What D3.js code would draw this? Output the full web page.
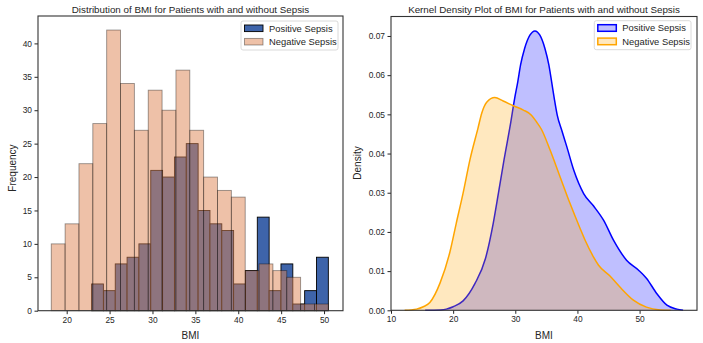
<!DOCTYPE html>
<html>
<head>
<meta charset="utf-8">
<script src="https://cdn.jsdelivr.net/npm/d3@7"></script>
<style>
  body { margin: 0; background: #fff; }
  svg text { font-family: "Liberation Sans", Arial, sans-serif; fill: #262626; }
</style>
</head>
<body>
<div class="chart"></div>
<script>
// histogram data (20 bins per group)
var seriesNames = ["Positive Sepsis", "Negative Sepsis"];
var posRange = [22.9, 50.5];
var negRange = [18.2, 50.5];
var posCounts = [4, 3, 7, 8, 10, 21, 20, 23, 25, 15, 13, 12, 4, 6, 14, 3, 7, 1, 3, 8];
var negCounts = [10, 13, 22, 28, 42, 34, 27, 33, 30, 36, 27, 20, 18, 17, 6, 7, 6, 5, 1, 1];

// kde curves
var posBmi  = [15.5, 18.0, 18.9, 20.0, 21.6, 23.5, 25.2, 26.45, 27.3, 28.2, 29.2, 29.9, 30.4, 30.85, 31.5, 32.35, 33.16,
               33.96, 34.77, 35.4, 35.85, 36.27, 36.75, 37.5, 38.3, 39.4, 41.0, 42.6, 44.2, 45.8, 47.9, 49.8, 51.1, 52.75, 54.4, 56.0, 57.0];
var posDens = [0, 0.0001, 0.0003, 0.0009, 0.0024, 0.0068, 0.0132, 0.0222, 0.0300, 0.0385, 0.0473, 0.0541, 0.0583, 0.0626, 0.0668, 0.0702, 0.0713,
               0.0702, 0.0668, 0.0626, 0.0583, 0.0541, 0.0498, 0.0458, 0.0417, 0.0358, 0.0298, 0.0266, 0.0230, 0.0179, 0.0128, 0.0103, 0.0082, 0.0043, 0.0013, 0.0003, 0];
var negBmi  = [12.2, 14.1, 15.2, 16.25, 17.9, 19.5, 20.5, 21.6, 22.7, 24.0, 24.6, 25.4, 26.7, 28.05, 29.7, 31.3, 32.6, 33.4, 34.2,
               35.6, 37.2, 38.8, 40.4, 41.2, 42.55, 43.4, 45.2, 46.8, 49.0, 51.1, 53.3, 55.0];
var negDens = [0, 0.0003, 0.0009, 0.0020, 0.0070, 0.0150, 0.0222, 0.0299, 0.0384, 0.0465, 0.0503, 0.0531, 0.0543, 0.0534, 0.0522, 0.0511, 0.0498, 0.0481, 0.0462,
               0.0409, 0.0341, 0.0273, 0.0210, 0.0180, 0.0137, 0.0115, 0.0088, 0.0060, 0.0026, 0.0008, 0.0001, 0];

// tick labels
var histXTicks = [20, 25, 30, 35, 40, 45, 50];
var histYTicks = [0, 5, 10, 15, 20, 25, 30, 35, 40];
var kdeXTicks = [10, 20, 30, 40, 50];
var kdeYTicks = [0, 0.01, 0.02, 0.03, 0.04, 0.05, 0.06, 0.07];

var width = 703, height = 343;

var svg = d3.select(".chart").append("svg")
    .attr("width", width)
    .attr("height", height);

// turn a range + counts into bins
function makeBins(range, counts) {
  var step = (range[1] - range[0]) / counts.length;
  return counts.map(function(c, i) {
    return {x0: range[0] + i * step, x1: range[0] + (i + 1) * step, n: c};
  });
}

function drawFrame(g, x, y, xTicks, yTicks, yFormat) {
  var x0 = x.range()[0], x1 = x.range()[1];
  var y0 = y.range()[0], y1 = y.range()[1];

  var xa = g.append("g")
      .attr("transform", "translate(0," + y0 + ")")
      .call(d3.axisBottom(x).tickValues(xTicks).tickSize(3.5).tickPadding(2.5).tickFormat(d3.format("d")));
  var ya = g.append("g")
      .attr("transform", "translate(" + x0 + ",0)")
      .call(d3.axisLeft(y).tickValues(yTicks).tickSize(3.5).tickPadding(2.5).tickFormat(yFormat));
  [xa, ya].forEach(function(a) {
    a.select(".domain").remove();
    a.selectAll("line").attr("stroke", "#262626");
    a.selectAll("text").style("font-size", "8.4px").attr("fill", "#262626");
  });

  g.append("rect")
    .attr("x", x0).attr("y", y1)
    .attr("width", x1 - x0).attr("height", y0 - y1)
    .attr("fill", "none")
    .attr("stroke", "#333")
    .attr("stroke-width", 1.1);
}

function drawLegend(g, x, y, w, items) {
  g.append("rect")
    .attr("x", x).attr("y", y)
    .attr("width", w).attr("height", 29)
    .attr("rx", 2)
    .attr("fill", "#fff")
    .attr("fill-opacity", 0.8)
    .attr("stroke", "#d0d0d0")
    .attr("stroke-width", 0.8);
  items.forEach(function(it, i) {
    var cy = y + 7.3 + i * 13.4;
    g.append("rect")
      .attr("x", x + 3.5).attr("y", cy - 3.3)
      .attr("width", 18.5).attr("height", 6.6)
      .attr("fill", it.fill)
      .attr("fill-opacity", it.fillOpacity)
      .attr("stroke", it.stroke)
      .attr("stroke-opacity", it.strokeOpacity)
      .attr("stroke-width", it.strokeWidth);
    g.append("text")
      .attr("x", x + 28).attr("y", cy)
      .attr("dy", "0.35em")
      .style("font-size", "9.4px")
      .text(it.name);
  });
}

// ---------- left: histogram ----------
var hx = d3.scaleLinear().domain([16.655, 52.21]).range([38, 343]);
var hy = d3.scaleLinear().domain([0, 44.1]).range([310.7, 16]);

var left = svg.append("g");

var posBins = makeBins(posRange, posCounts);
var negBins = makeBins(negRange, negCounts);

left.selectAll(".pos").data(posBins).enter().append("rect")
    .attr("class", "pos")
    .attr("x", function(d) { return hx(d.x0); })
    .attr("y", function(d) { return hy(d.n); })
    .attr("width", function(d) { return hx(d.x1) - hx(d.x0); })
    .attr("height", function(d) { return hy(0) - hy(d.n); })
    .attr("fill", "#3e64aa")
    .attr("stroke", "#000")
    .attr("stroke-width", 0.9);

left.selectAll(".neg").data(negBins).enter().append("rect")
    .attr("class", "neg")
    .attr("x", function(d) { return hx(d.x0); })
    .attr("y", function(d) { return hy(d.n); })
    .attr("width", function(d) { return hx(d.x1) - hx(d.x0); })
    .attr("height", function(d) { return hy(0) - hy(d.n); })
    .attr("fill", "#dd8452")
    .attr("fill-opacity", 0.5)
    .attr("stroke", "#000")
    .attr("stroke-opacity", 0.4)
    .attr("stroke-width", 0.9);

drawFrame(left, hx, hy, histXTicks, histYTicks, d3.format("d"));

left.append("text")
    .attr("x", 190.5).attr("y", 12.5)
    .attr("text-anchor", "middle")
    .style("font-size", "9.8px")
    .text("Distribution of BMI for Patients with and without Sepsis");
left.append("text")
    .attr("x", 190.5).attr("y", 338.5)
    .attr("text-anchor", "middle")
    .style("font-size", "10px")
    .text("BMI");
left.append("text")
    .attr("transform", "translate(15.5,168) rotate(-90)")
    .attr("text-anchor", "middle")
    .style("font-size", "10px")
    .text("Frequency");

drawLegend(left, 241, 21, 97, [
  {name: seriesNames[0], fill: "#3e64aa", fillOpacity: 1, stroke: "#000", strokeOpacity: 1, strokeWidth: 0.9},
  {name: seriesNames[1], fill: "#dd8452", fillOpacity: 0.5, stroke: "#000", strokeOpacity: 0.4, strokeWidth: 0.9}
]);

// ---------- right: kde ----------
var kx = d3.scaleLinear().domain([10, 59.24]).range([391, 697]);
var ky = d3.scaleLinear().domain([0, 0.07497]).range([310.3, 16.5]);

var right = svg.append("g");

var area = d3.area()
    .x(function(d) { return kx(d[0]); })
    .y0(ky(0))
    .y1(function(d) { return ky(d[1]); })
    .curve(d3.curveMonotoneX);
var line = d3.line()
    .x(function(d) { return kx(d[0]); })
    .y(function(d) { return ky(d[1]); })
    .curve(d3.curveMonotoneX);

var kdeSeries = [
  {pts: d3.zip(posBmi, posDens), color: "#0000ff"},
  {pts: d3.zip(negBmi, negDens), color: "#ffa500"}
];

kdeSeries.forEach(function(s) {
  right.append("path")
    .attr("d", area(s.pts))
    .attr("fill", s.color)
    .attr("fill-opacity", 0.25);
  right.append("path")
    .attr("d", line(s.pts))
    .attr("fill", "none")
    .attr("stroke", s.color)
    .attr("stroke-width", 1.5);
});

drawFrame(right, kx, ky, kdeXTicks, kdeYTicks, d3.format(".2f"));

right.append("text")
    .attr("x", 544).attr("y", 12.5)
    .attr("text-anchor", "middle")
    .style("font-size", "9.8px")
    .text("Kernel Density Plot of BMI for Patients with and without Sepsis");
right.append("text")
    .attr("x", 544).attr("y", 338.5)
    .attr("text-anchor", "middle")
    .style("font-size", "10px")
    .text("BMI");
right.append("text")
    .attr("transform", "translate(360.5,163) rotate(-90)")
    .attr("text-anchor", "middle")
    .style("font-size", "10px")
    .text("Density");

drawLegend(right, 594.3, 20.7, 96.7, [
  {name: seriesNames[0], fill: "#0000ff", fillOpacity: 0.25, stroke: "#0000ff", strokeOpacity: 1, strokeWidth: 1.5},
  {name: seriesNames[1], fill: "#ffa500", fillOpacity: 0.25, stroke: "#ffa500", strokeOpacity: 1, strokeWidth: 1.5}
]);
</script>
</body>
</html>
